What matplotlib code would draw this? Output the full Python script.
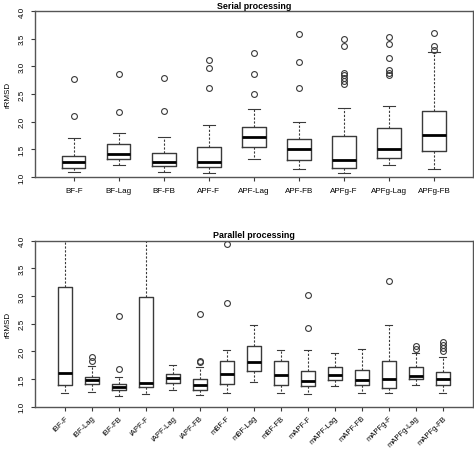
import matplotlib
matplotlib.use('Agg')
import matplotlib.pyplot as plt

plt.rcParams['font.family'] = ['Liberation Sans', 'DejaVu Sans']

# serial processing: whisker low, Q1, median, Q3, whisker high, outliers
serial_labels = ['BF-F', 'BF-Lag', 'BF-FB', 'APF-F', 'APF-Lag', 'APF-FB',
                 'APFg-F', 'APFg-Lag', 'APFg-FB']
serial_low = [1.09, 1.21, 1.10, 1.08, 1.33, 1.14, 1.08, 1.22, 1.14]
serial_q1 = [1.16, 1.33, 1.20, 1.18, 1.54, 1.30, 1.17, 1.34, 1.47]
serial_med = [1.28, 1.41, 1.27, 1.28, 1.73, 1.50, 1.30, 1.51, 1.76]
serial_q3 = [1.39, 1.60, 1.43, 1.55, 1.91, 1.69, 1.74, 1.88, 2.19]
serial_high = [1.71, 1.80, 1.73, 1.94, 2.23, 2.00, 2.25, 2.28, 3.27]
serial_out = [
    [2.11, 2.77],
    [2.17, 2.87],
    [2.20, 2.80],
    [2.62, 2.98, 3.11],
    [2.51, 2.87, 3.24],
    [2.62, 3.09, 3.59],
    [2.68, 2.74, 2.80, 2.84, 2.89, 3.37, 3.49],
    [2.84, 2.89, 2.94, 3.16, 3.40, 3.54],
    [3.30, 3.37, 3.61],
]

# parallel processing
par_labels = ['iBF-F', 'iBF-Lag', 'iBF-FB', 'iAPF-F', 'iAPF-Lag', 'iAPF-FB',
              'mBF-F', 'mBF-Lag', 'mBF-FB', 'mAPF-F', 'mAPF-Lag', 'mAPF-FB',
              'mAPFg-F', 'mAPFg-Lag', 'mAPFg-FB']
par_low = [1.24, 1.27, 1.20, 1.23, 1.30, 1.21, 1.24, 1.44, 1.25, 1.23, 1.37,
           1.24, 1.24, 1.39, 1.25]
par_q1 = [1.40, 1.41, 1.30, 1.35, 1.43, 1.31, 1.41, 1.65, 1.40, 1.37, 1.48,
          1.40, 1.34, 1.50, 1.40]
par_med = [1.61, 1.48, 1.36, 1.43, 1.52, 1.40, 1.59, 1.81, 1.57, 1.47, 1.57,
           1.49, 1.51, 1.55, 1.50]
par_q3 = [3.16, 1.54, 1.41, 2.98, 1.60, 1.50, 1.82, 2.10, 1.82, 1.65, 1.72,
          1.66, 1.83, 1.71, 1.62]
par_high = [5.0, 1.74, 1.54, 5.0, 1.76, 1.71, 2.02, 2.48, 2.03, 2.02, 1.98,
            2.04, 2.47, 1.97, 1.89]
par_out = [
    [],
    [1.83, 1.90],
    [1.68, 2.64],
    [],
    [],
    [1.80, 1.83, 2.68],
    [2.87, 3.94],
    [],
    [],
    [2.43, 3.02],
    [],
    [],
    [3.28],
    [2.05, 2.09],
    [2.01, 2.06, 2.11, 2.17],
]

line_col = '#3a3a3a'
fs = 5.8


def draw_panel(ax, labels, low, q1, med, q3, high, out, title, rotate):
    n = len(labels)
    stats = []
    for i in range(n):
        stats.append({'whislo': low[i], 'q1': q1[i], 'med': med[i],
                      'q3': q3[i], 'whishi': high[i], 'fliers': out[i]})
    pos = list(range(1, n + 1))
    ax.bxp(stats, positions=pos, widths=0.52, capwidths=0.26,
           boxprops=dict(color=line_col, linewidth=1.0),
           medianprops=dict(color='black', linewidth=2.0),
           whiskerprops=dict(color=line_col, linewidth=0.8, linestyle=(0, (2, 1.5))),
           capprops=dict(color=line_col, linewidth=0.8),
           flierprops=dict(marker='o', markersize=4.2, markerfacecolor='none',
                           markeredgecolor=line_col, markeredgewidth=0.8))
    pad = 0.04 * n
    ax.set_xlim(0.5 - pad, n + 0.5 + pad)
    ax.set_ylim(1.0, 4.0)
    ax.set_yticks([1.0, 1.5, 2.0, 2.5, 3.0, 3.5, 4.0])
    ax.set_yticklabels(['1.0', '1.5', '2.0', '2.5', '3.0', '3.5', '4.0'],
                       rotation=90, va='center', fontsize=fs)
    ax.set_xticks(pos)
    if rotate:
        ax.set_xticklabels(labels, rotation=45, ha='right',
                           rotation_mode='anchor', fontsize=5.5)
        ax.tick_params(axis='x', pad=2.5)
    else:
        ax.set_xticklabels(labels, fontsize=fs)
        ax.tick_params(axis='x', pad=4)
    ax.tick_params(direction='out', length=3, width=0.8, color=line_col)
    ax.tick_params(axis='y', pad=4)
    ax.set_ylabel('rRMSD', fontsize=fs)
    ax.yaxis.set_label_coords(-0.055, 0.5)
    ax.set_title(title, fontsize=6.4, fontweight='bold', pad=2.5)
    for s in ax.spines.values():
        s.set_color('#555555')
        s.set_linewidth(1.0)


fig = plt.figure(figsize=(4.74, 4.52), dpi=100)
ax1 = fig.add_axes([0.074, 0.606, 0.923, 0.367])
ax2 = fig.add_axes([0.074, 0.098, 0.923, 0.367])

draw_panel(ax1, serial_labels, serial_low, serial_q1, serial_med, serial_q3,
           serial_high, serial_out, 'Serial processing', False)
draw_panel(ax2, par_labels, par_low, par_q1, par_med, par_q3,
           par_high, par_out, 'Parallel processing', True)

fig.savefig('out.png', dpi=100)
